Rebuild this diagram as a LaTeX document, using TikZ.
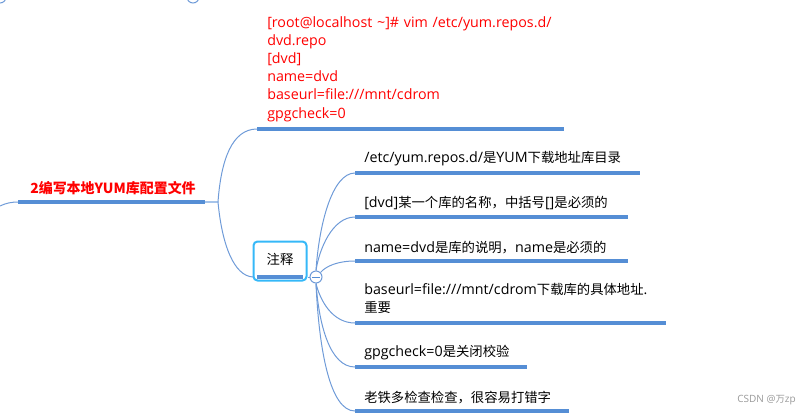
\documentclass[tikz,border=0pt]{standalone}
\usepackage{fontspec}
\setmainfont{Open Sans}
\newfontfamily\cjk[Scale = 0.935]{Noto Sans CJK SC}
\newcommand{\zh}[1]{{\cjk #1}}
\usetikzlibrary{positioning}

\tikzset{
	leaf/.style = {anchor = south west, inner sep = 0 pt, align = left, text width = 320 * 0.75 pt, font = \fontsize{10.7}{13.65}\selectfont},
	bar/.style = {draw = barblue, line width = 2.4 pt},
	curve/.style = {draw = curveblue, line width = 0.75 pt}
}

\definecolor{barblue}{HTML}{558ED5}
\definecolor{curveblue}{HTML}{6F9BD8}
\definecolor{paleblue}{HTML}{A6C4EA}
\definecolor{boxblue}{HTML}{35B8F8}

\begin{document}
\begin{tikzpicture}[x = 0.75 pt, y = -0.75 pt]

	\useasboundingbox (0, 0) rectangle (811, 415);

	% Partly hidden circles at the top edge
	
	\draw [curve] (193, -3) circle (6);
	\draw [curve] (0, -3) circle (6);
	
	% Main topic
	
	\coordinate (stubL) at (0, 206);
	\coordinate (mainL) at (18, 202);
	\coordinate (mainR) at (205, 202);
	\coordinate (fork) at (218, 202);
	
	\node [anchor = south, inner sep = 0 pt, text = red, font = \fontsize{11.2}{12}\bfseries\selectfont] (main) at (113, 195) {\zh{\bfseries 2编写本地YUM库配置文件}};
	
	\draw [curve] (stubL) .. controls (6, 203) and (12, 202) .. (mainL);
	\draw [bar] (mainL) -- (mainR);
	\draw [draw = paleblue, line width = 1.5 pt] (mainR) -- (fork);
	
	% Command block
	
	\coordinate (cmdL) at (257, 129);
	\coordinate (cmdR) at (564, 129);
	
	\node [leaf, text = red, text width = 300 * 0.75 pt, anchor = north west] (cmd) at (267, 16) {[root@localhost \textasciitilde]\# vim /etc/yum.repos.d/\\dvd.repo\\{[dvd]}\\name=dvd\\baseurl=file:///mnt/cdrom\\gpgcheck=0};
	
	\draw [bar] (cmdL) -- (cmdR);
	\draw [curve] (fork) .. controls (221, 160) and (232, 129) .. (cmdL);
	
	% Note box
	
	\node [draw = boxblue, line width = 1.5 pt, rounded corners = 3 pt, minimum width = 53 * 0.75 pt, minimum height = 39 * 0.75 pt, inner sep = 0 pt, font = \fontsize{10.7}{12}\selectfont, text depth = 3 pt] (note) at (280, 261) {\zh{注释}};
	\coordinate (noteL) at (257, 277);
	\coordinate (noteR) at (303, 277);
	
	\draw [bar] (noteL) -- (noteR);
	\draw [curve] (fork) .. controls (222, 245) and (234, 276) .. (253, 277);
	
	\node [draw = curveblue, fill = white, circle, line width = 0.75 pt, minimum size = 12 * 0.75 pt, inner sep = 0 pt] (fold) at (316, 277) {};
	\draw [curve] (note.east |- fold) -- (fold);
	\draw [draw = barblue, line width = 0.75 pt] (312, 277) -- (320, 277);
	
	% Notes
	
	\foreach \n/\Y/\G/\E/\s in {
		a/173/7/640/{/etc/yum.repos.d/\zh{是}YUM\zh{下载地址库目录}},
		b/217/7/628/{{[dvd]}\zh{某一个库的名称，中括号}[]\zh{是必须的}},
		c/261/7/628/{name=dvd\zh{是库的说明，}name\zh{是必须的}},
		d/323/9/666/{baseurl=file:///mnt/cdrom\zh{下载库的具体地址}.\\\zh{重要}},
		e/367/7/527/{gpgcheck=0\zh{是关闭校验}},
		f/411/7/569/{\zh{老铁多检查检查，很容易打错字}}}
	{
		\coordinate (\n L) at (355, \Y);
		\coordinate (\n R) at (\E, \Y);
		\node [leaf] (\n) at (364, \Y - \G) {\s};
		\draw [bar] (\n L) -- (\n R);
	}
	
	\draw [curve] (fold.north) .. controls (319, 225) and (332, 173) .. (aL);
	\draw [curve] (fold.north) .. controls (319, 250) and (332, 217) .. (bL);
	\draw [curve] (fold.north east) .. controls (326, 266) and (338, 261) .. (cL);
	\draw [curve] (fold.south) .. controls (320, 300) and (332, 323) .. (dL);
	\draw [curve] (fold.south) .. controls (319, 325) and (330, 367) .. (eL);
	\draw [curve] (fold.south) .. controls (319, 350) and (330, 411) .. (fL);
	
	% Watermark
	
	\node [anchor = east, inner sep = 0 pt, text = gray!80, font = \fontsize{7.5}{8}\selectfont] (mark) at (796, 400) {CSDN @\zh{万}zp};

\end{tikzpicture}
\end{document}
